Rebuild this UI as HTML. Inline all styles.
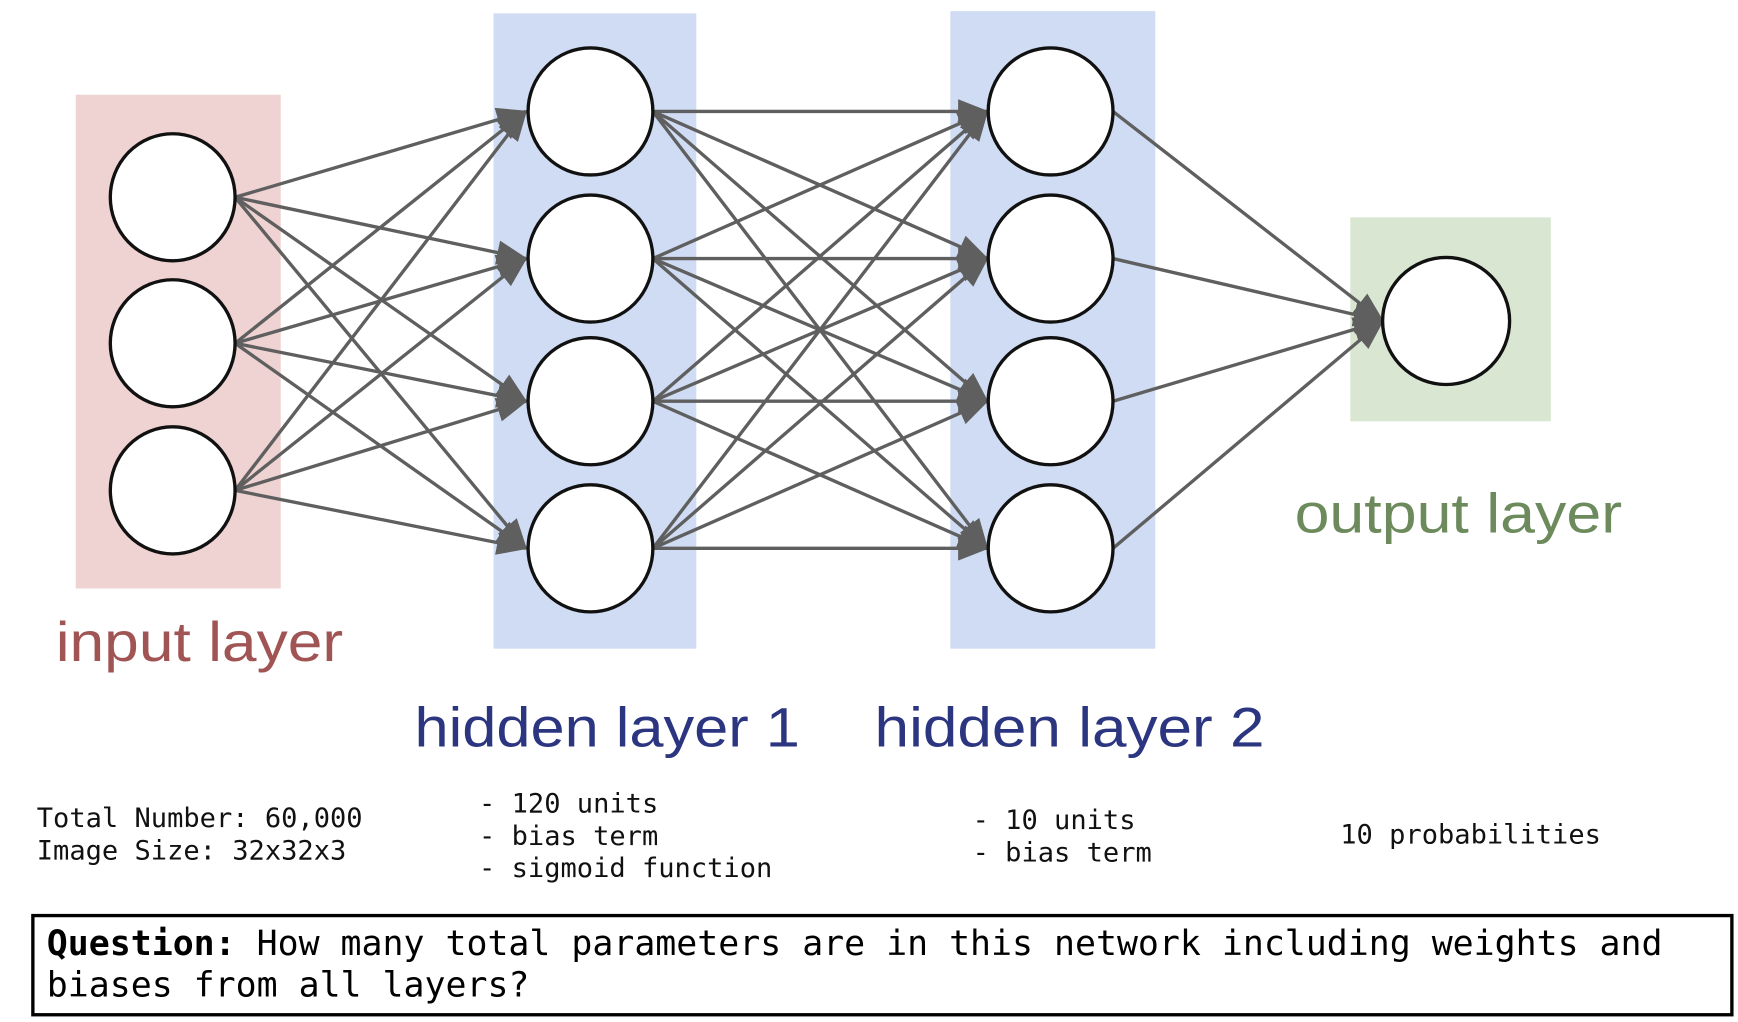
<!DOCTYPE html>
<html><head><style>html,body{margin:0;padding:0;background:#fff;}svg{display:block}</style></head>
<body>
<svg width="1738" height="1022" viewBox="0 0 1560 917" preserveAspectRatio="none" xmlns="http://www.w3.org/2000/svg">
<defs>
<marker id="a" markerWidth="10" markerHeight="10" refX="9" refY="5" orient="auto" markerUnits="userSpaceOnUse" viewBox="0 0 10 10">
<path d="M0,0 L10,5 L0,10 z" fill="#5f5f5f"/>
</marker>
<marker id="b" markerWidth="28" markerHeight="22" refX="26" refY="11" orient="auto" markerUnits="userSpaceOnUse">
<path d="M0,0 L28,11 L0,22 z" fill="#5f5f5f"/>
</marker>
</defs>
<rect width="1560" height="917" fill="#fff"/>
<rect x="68" y="85" width="184" height="443" fill="#efd2d2"/>
<rect x="443" y="12" width="182" height="570" fill="#cfdcf3"/>
<rect x="853" y="10" width="184" height="572" fill="#cfdcf3"/>
<rect x="1212" y="195" width="180" height="183" fill="#d9e7d2"/>
<g stroke="#5f5f5f" stroke-width="3" fill="none" marker-end="url(#b)">
<!-- input -> h1 -->
<line x1="211" y1="177" x2="472" y2="100"/><line x1="211" y1="177" x2="472" y2="232"/><line x1="211" y1="177" x2="472" y2="360"/><line x1="211" y1="177" x2="472" y2="492"/>
<line x1="211" y1="308" x2="472" y2="100"/><line x1="211" y1="308" x2="472" y2="232"/><line x1="211" y1="308" x2="472" y2="360"/><line x1="211" y1="308" x2="472" y2="492"/>
<line x1="211" y1="440" x2="472" y2="100"/><line x1="211" y1="440" x2="472" y2="232"/><line x1="211" y1="440" x2="472" y2="360"/><line x1="211" y1="440" x2="472" y2="492"/>
<!-- h1 -> h2 -->
<line x1="586" y1="100" x2="886" y2="100"/><line x1="586" y1="100" x2="886" y2="232"/><line x1="586" y1="100" x2="886" y2="360"/><line x1="586" y1="100" x2="886" y2="492"/>
<line x1="586" y1="232" x2="886" y2="100"/><line x1="586" y1="232" x2="886" y2="232"/><line x1="586" y1="232" x2="886" y2="360"/><line x1="586" y1="232" x2="886" y2="492"/>
<line x1="586" y1="360" x2="886" y2="100"/><line x1="586" y1="360" x2="886" y2="232"/><line x1="586" y1="360" x2="886" y2="360"/><line x1="586" y1="360" x2="886" y2="492"/>
<line x1="586" y1="492" x2="886" y2="100"/><line x1="586" y1="492" x2="886" y2="232"/><line x1="586" y1="492" x2="886" y2="360"/><line x1="586" y1="492" x2="886" y2="492"/>
<!-- h2 -> out -->
<line x1="999" y1="100" x2="1241" y2="288"/><line x1="999" y1="232" x2="1241" y2="288"/><line x1="999" y1="360" x2="1241" y2="288"/><line x1="999" y1="492" x2="1241" y2="288"/>
</g>
<g fill="#fff" stroke="#111" stroke-width="3">
<ellipse cx="155" cy="177" rx="56" ry="57"/><ellipse cx="155" cy="308" rx="56" ry="57"/><ellipse cx="155" cy="440" rx="56" ry="57"/>
<ellipse cx="530" cy="100" rx="56" ry="57"/><ellipse cx="530" cy="232" rx="56" ry="57"/><ellipse cx="530" cy="360" rx="56" ry="57"/><ellipse cx="530" cy="492" rx="56" ry="57"/>
<ellipse cx="943" cy="100" rx="56" ry="57"/><ellipse cx="943" cy="232" rx="56" ry="57"/><ellipse cx="943" cy="360" rx="56" ry="57"/><ellipse cx="943" cy="492" rx="56" ry="57"/>
<ellipse cx="1298" cy="288" rx="57" ry="57"/>
</g>
<g font-family="Liberation Sans, sans-serif" font-size="50">
<text x="50" y="593" fill="#a05454" textLength="258" lengthAdjust="spacingAndGlyphs">input layer</text>
<text x="372" y="670" fill="#2c3580" textLength="346" lengthAdjust="spacingAndGlyphs">hidden layer 1</text>
<text x="785" y="670" fill="#2c3580" textLength="350" lengthAdjust="spacingAndGlyphs">hidden layer 2</text>
<text x="1162" y="478" fill="#6d8a5c" textLength="294" lengthAdjust="spacingAndGlyphs">output layer</text>
</g>
<g font-family="DejaVu Sans Mono, Liberation Mono, monospace" font-size="24.3" fill="#111">
<text x="33" y="742">Total Number: 60,000</text>
<text x="33" y="771">Image Size: 32x32x3</text>
<text x="430" y="729">- 120 units</text>
<text x="430" y="758">- bias term</text>
<text x="430" y="787">- sigmoid function</text>
<text x="873" y="744">- 10 units</text>
<text x="873" y="773">- bias term</text>
<text x="1203" y="757">10 probabilities</text>
</g>
<rect x="29.5" y="821.5" width="1525" height="89" fill="#fff" stroke="#000" stroke-width="3"/>
<g font-family="DejaVu Sans Mono, Liberation Mono, monospace" font-size="31.3" fill="#000">
<text x="42" y="857"><tspan font-weight="bold">Question:</tspan> How many total parameters are in this network including weights and</text>
<text x="42" y="894">biases from all layers?</text>
</g>
</svg>
</body></html>
